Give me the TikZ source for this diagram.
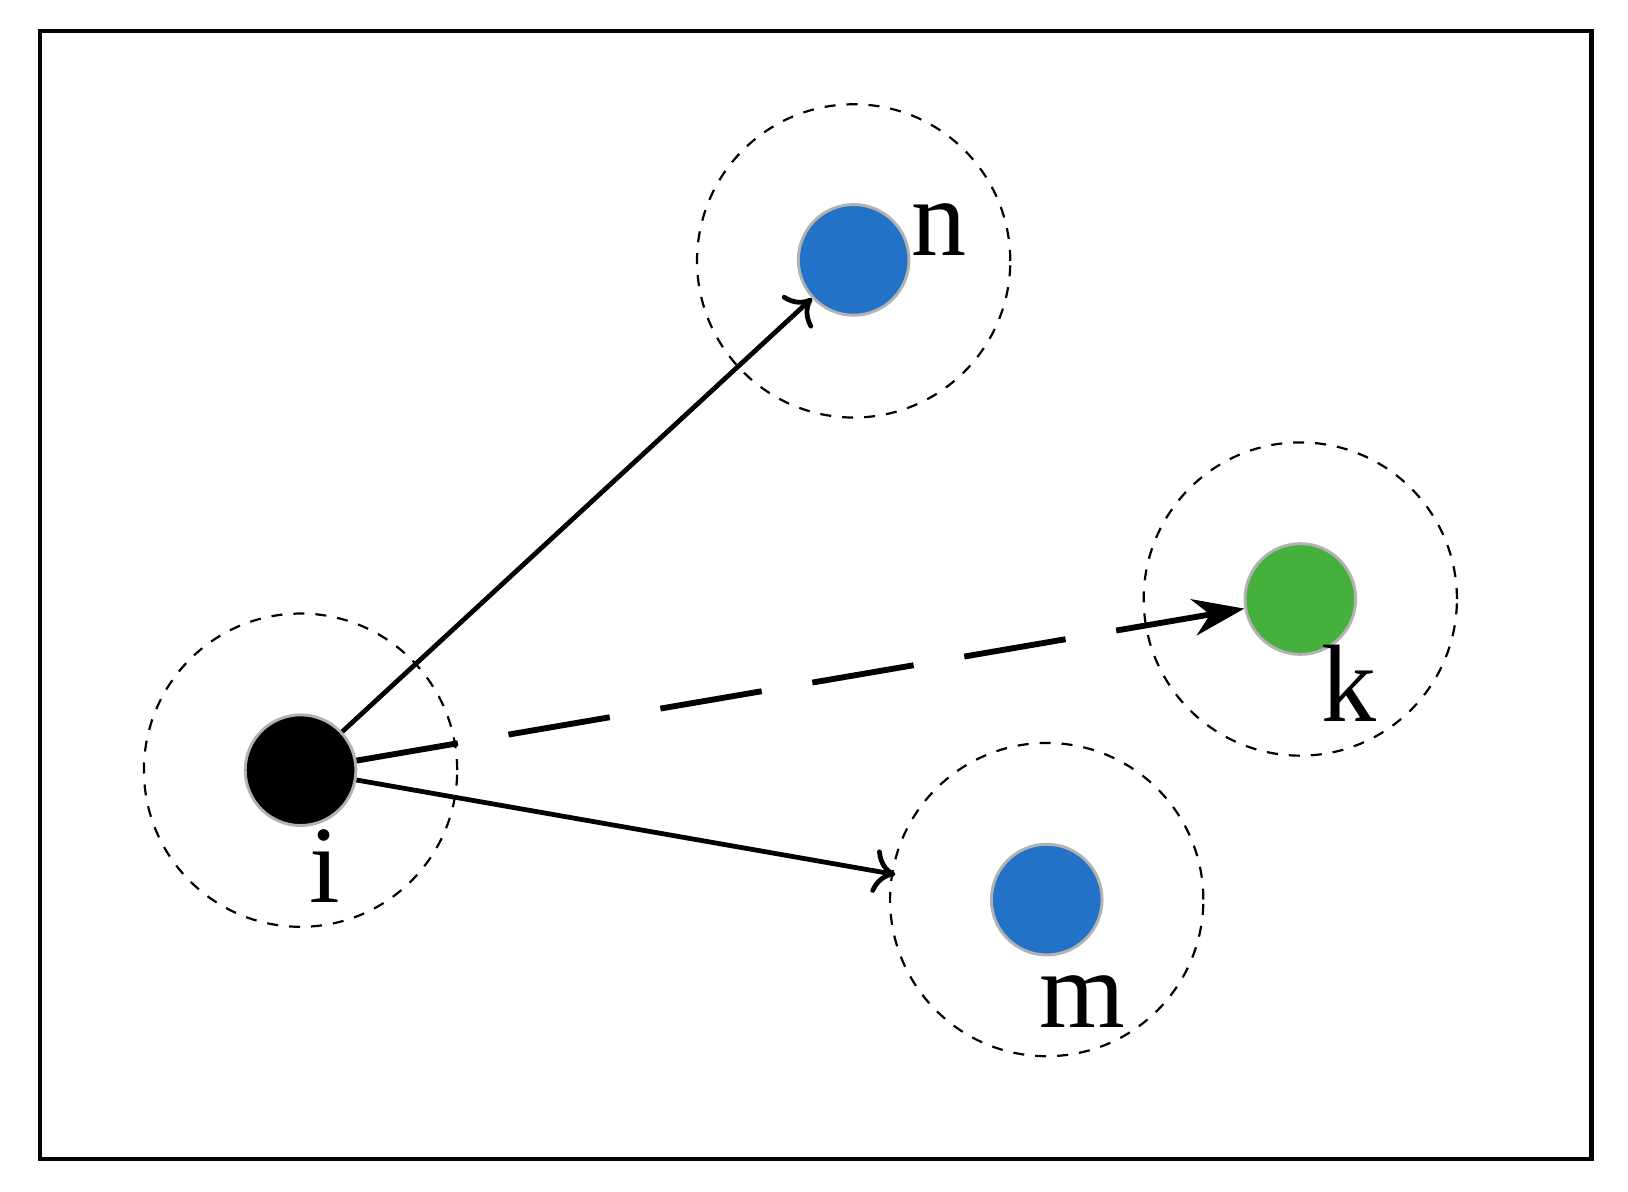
\documentclass[tikz,border=0pt]{standalone}
\usepackage{fontspec}
\setmainfont{Liberation Serif}
\usetikzlibrary{arrows.meta}
\definecolor{nblue}{HTML}{2272C8}
\definecolor{ngreen}{HTML}{45B03B}
\begin{document}
\begin{tikzpicture}[x=0.01cm,y=-0.01cm]
  \tikzset{
    dot/.style={circle, draw=gray!60, line width=0.8pt, minimum size=1.06cm, inner sep=0pt},
    reach/.style={circle, draw, dashed, line width=0.6pt, minimum size=3cm, inner sep=0pt},
    lbl/.style={font=\fontsize{30}{30}\selectfont, inner sep=0pt},
    link/.style={line width=1.3pt, -{To[length=6pt,width=12pt]}},
  }
  \useasboundingbox (0,0) rectangle (1560,1142);
  \draw[line width=1.1pt] (38,30) rectangle (1525,1111);

  % ranges
  \node[reach] (ri) at (288,738) {};
  \node[reach] (rn) at (818,250) {};
  \node[reach] (rk) at (1246,574) {};
  \node[reach] (rm) at (1003,862) {};

  % nodes
  \node[dot, fill=black] (i) at (288,738) {};
  \node[dot, fill=nblue] (n) at (818,249) {};
  \node[dot, fill=ngreen] (k) at (1246,574) {};
  \node[dot, fill=nblue] (m) at (1003,862) {};

  % labels
  \node[lbl] (li) at (311,830) {i};
  \node[lbl] (ln) at (900,220) {n};
  \node[lbl] (lk) at (1293,655) {k};
  \node[lbl] (lm) at (1037,960) {m};

  % connectors
  \coordinate (mend) at (858,838);
  \draw[link] (i) -- (n);
  \draw[link] (i) -- (mend);
  \draw[line width=1.6pt, dash pattern=on 28pt off 14pt, -{Stealth[length=14pt,width=10pt]}] (i) -- (k);
\end{tikzpicture}
\end{document}
